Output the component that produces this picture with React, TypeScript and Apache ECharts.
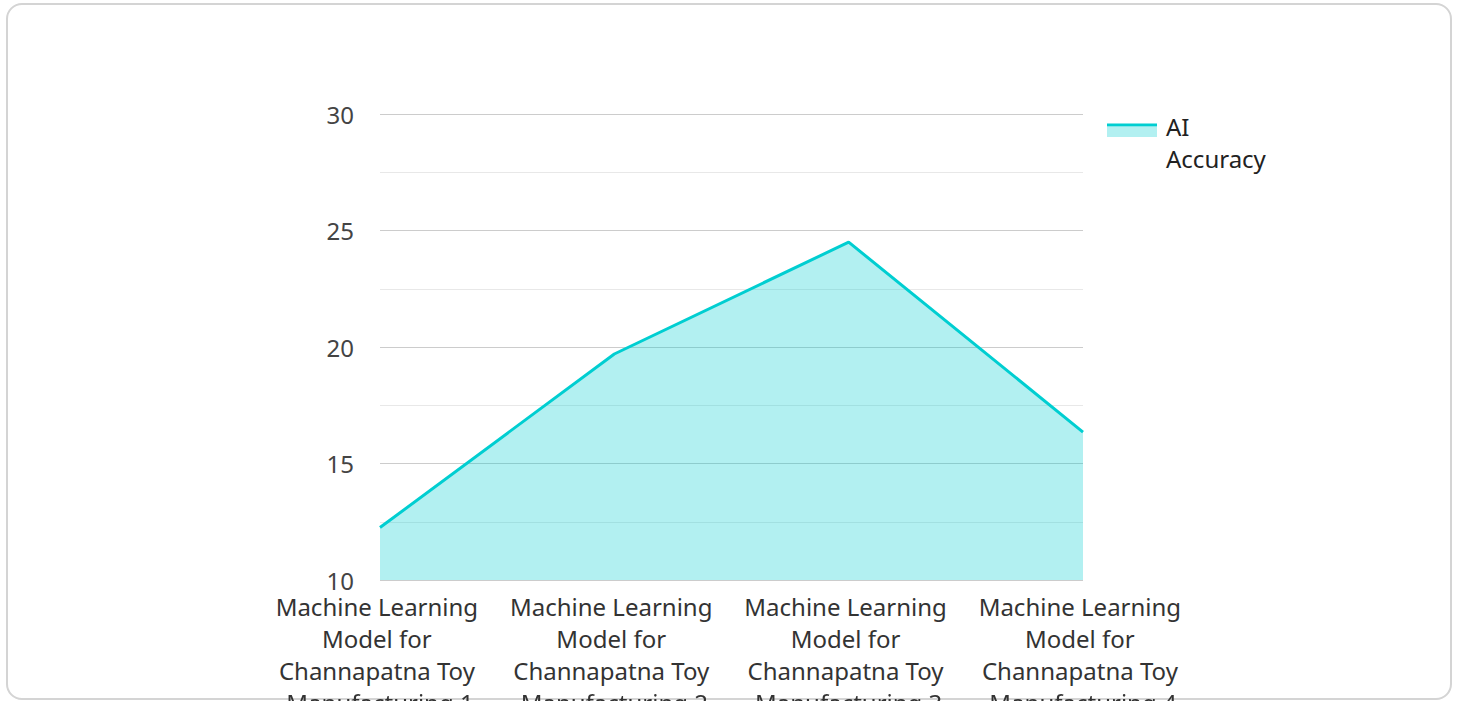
import React, { useEffect, useRef } from "react";
import * as echarts from "echarts";

const categories = [
  "Machine Learning Model for Channapatna Toy Manufacturing 1",
  "Machine Learning Model for Channapatna Toy Manufacturing 2",
  "Machine Learning Model for Channapatna Toy Manufacturing 3",
  "Machine Learning Model for Channapatna Toy Manufacturing 4",
];
const accuracy = [12.25, 19.7, 24.5, 16.35];
const seriesName = "AI Accuracy";
const yMin = 10;
const yMax = 30;
const yInterval = 5;

const FONT = "Noto Sans";
const LINE = "#00ced1";
const AREA = "rgba(0,206,209,0.3)";

export default function App() {
  const ref = useRef<HTMLDivElement>(null);
  useEffect(() => {
    if (!ref.current) return;
    const chart = echarts.init(ref.current, undefined, { renderer: "svg" });
    chart.setOption({
      animation: false,
      textStyle: { fontFamily: FONT },
      grid: { left: 380, right: 375, top: 114, bottom: 121, containLabel: false, outerBoundsMode: "none" },
      xAxis: {
        type: "category",
        data: categories,
        boundaryGap: false,
        axisLine: { show: false },
        axisTick: { show: false },
        splitLine: { show: false },
        axisLabel: {
          interval: 0,
          margin: 10,
          fontSize: 24,
          lineHeight: 32,
          color: "#333",
          fontFamily: FONT,
          width: 230,
          overflow: "break",
          hideOverlap: false,
        },
      },
      yAxis: {
        type: "value",
        min: yMin,
        max: yMax,
        interval: yInterval,
        axisLine: { show: false },
        axisTick: { show: false },
        axisLabel: { margin: 26, fontSize: 24, color: "#444", fontFamily: FONT },
        splitLine: { lineStyle: { color: "#cccccc", width: 1 } },
        minorTick: { show: false, splitNumber: 2 },
        minorSplitLine: { show: true, lineStyle: { color: "#e8e8e8", width: 1 } },
      },
      series: [
        {
          name: seriesName,
          type: "line",
          data: accuracy,
          symbol: "none",
          lineStyle: { color: LINE, width: 3 },
          itemStyle: { color: LINE },
          areaStyle: { color: AREA, opacity: 1, origin: "start" },
        },
      ],
      graphic: [
        { type: "rect", shape: { x: 1107, y: 127, width: 50, height: 10 }, style: { fill: "#b2f0f1" } },
        { type: "line", shape: { x1: 1107, y1: 125, x2: 1157, y2: 125 }, style: { stroke: LINE, lineWidth: 3 } },
        {
          type: "text",
          x: 1166,
          y: 110,
          style: {
            text: "AI\nAccuracy",
            fontSize: 24,
            lineHeight: 32,
            fontFamily: FONT,
            fill: "#222",
          },
        },
      ],
    });
    return () => chart.dispose();
  }, []);
  return (
    <>
      <div
        style={{
          position: "fixed",
          left: 6,
          top: 3,
          width: 1446,
          height: 697,
          boxSizing: "border-box",
          border: "2px solid #d4d4d4",
          borderRadius: 16,
          background: "#fff",
        }}
      />
      <div ref={ref} style={{ position: "fixed", left: 0, top: 0, width: 1458, height: 701 }} />
    </>
  );
}
